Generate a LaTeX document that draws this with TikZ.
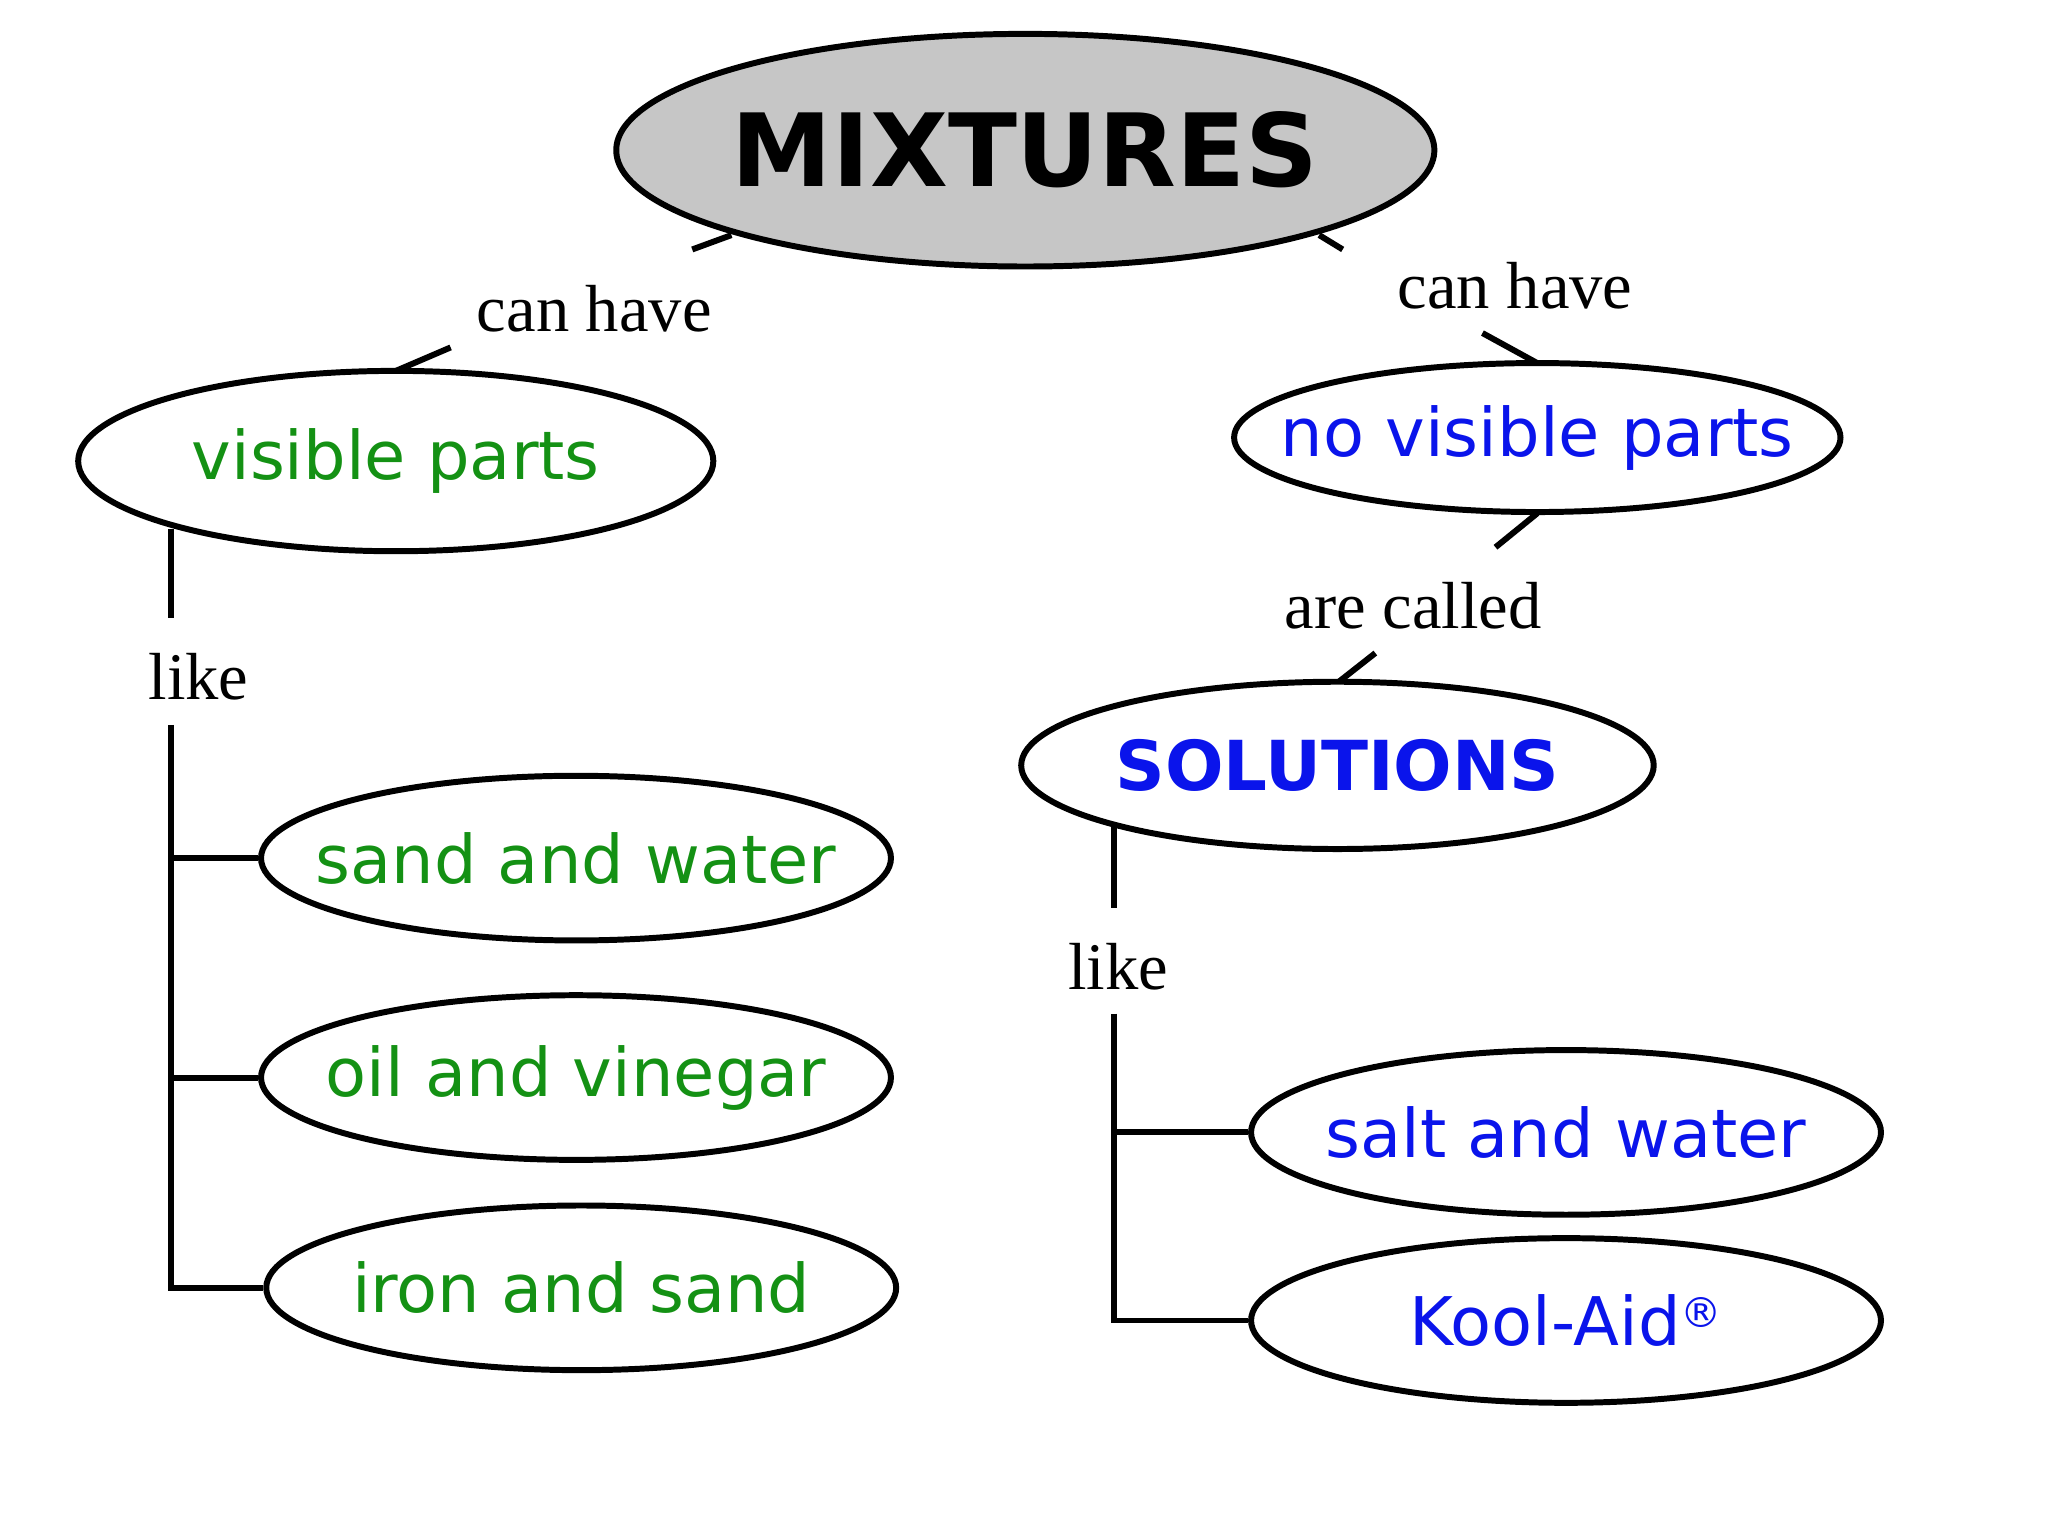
\documentclass[tikz,border=0pt]{standalone}
\usepackage{fontspec}
\setmainfont{Liberation Serif}
\newfontfamily\dv{DejaVu Sans}
\usetikzlibrary{shapes.geometric}
\definecolor{gr}{RGB}{20,145,20}
\definecolor{bl}{RGB}{10,20,235}
\begin{document}
\begin{tikzpicture}[x=0.01cm,y=-0.01cm,
  ell/.style={ellipse,draw,line width=1.3pt,inner xsep=-2.2cm,inner ysep=-0.4cm},
  lab/.style={font=\fontsize{14.5}{16}\selectfont,inner sep=1pt},
  ln/.style={line width=1.3pt},
  gt/.style={text=gr,font=\dv\fontsize{14.6}{16}\selectfont},
  bt/.style={text=bl,font=\dv\fontsize{14.6}{16}\selectfont},
  sm/.style={minimum width=4.82cm,minimum height=1.26cm}]
\useasboundingbox (0,0) rectangle (1568,1176);
\node[ell,fill=gray!45,minimum width=6.26cm,minimum height=1.78cm,font=\dv\bfseries\fontsize{22}{24}\selectfont] (mix) at (785,115) {MIXTURES};
\node[ell,gt,minimum width=4.86cm,minimum height=1.38cm] (vp) at (303,353) {visible parts};
\node[ell,bt,minimum width=4.64cm,minimum height=1.14cm] (nvp) at (1177,335) {no visible parts};
\node[ell,text=bl,font=\dv\bfseries\fontsize{15}{16}\selectfont,minimum width=4.84cm,minimum height=1.28cm] (sol) at (1024,586) {SOLUTIONS};
\node[ell,gt,sm] (sw) at (441,657) {sand and water};
\node[ell,gt,sm] (ov) at (441,825) {oil and vinegar};
\node[ell,gt,sm] (is) at (445,986) {iron and sand};
\node[ell,bt,sm] (saw) at (1199,867) {salt and water};
\node[ell,bt,sm] (ka) at (1199,1011) {Kool-Aid\raisebox{0.5ex}{\fontsize{9}{10}\selectfont®}};
\node[lab] (ch1) at (455,236) {can have};
\node[lab] (ch2) at (1160,219) {can have};
\node[lab] (ac) at (1082,464) {are called};
\node[lab] (lk1) at (152,518) {like};
\node[lab] (lk2) at (856,740) {like};
\coordinate (a1) at (560,180); \coordinate (a2) at (530,191);
\coordinate (a3) at (345,266); \coordinate (a4) at (303,284);
\coordinate (b1) at (1010,180); \coordinate (b2) at (1028,191);
\coordinate (b3) at (1135,255); \coordinate (b4) at (1177,278);
\coordinate (c1) at (1177,393); \coordinate (c2) at (1145,419);
\coordinate (c3) at (1053,500); \coordinate (c4) at (1025,522);
\draw[ln] (a1)--(a2); \draw[ln] (a3)--(a4);
\draw[ln] (b1)--(b2); \draw[ln] (b3)--(b4);
\draw[ln] (c1)--(c2); \draw[ln] (c3)--(c4);
\coordinate (l1) at (131,405); \coordinate (l2) at (131,473); \coordinate (l3) at (131,555);
\draw[ln] (l1)--(l2);
\draw[ln] (l3)--(131,986)--(is.west);
\draw[ln] (131,657)--(sw.west);
\draw[ln] (131,825)--(ov.west);
\coordinate (r1) at (853,633); \coordinate (r2) at (853,695); \coordinate (r3) at (853,776);
\draw[ln] (r1)--(r2);
\draw[ln] (r3)--(853,1011)--(ka.west);
\draw[ln] (853,867)--(saw.west);
\end{tikzpicture}
\end{document}
